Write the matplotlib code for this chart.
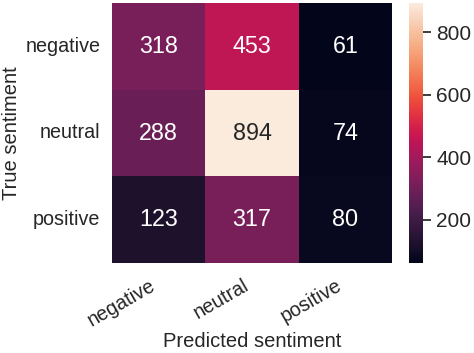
import numpy as np
import seaborn as sns
from matplotlib import pyplot as plt

labels = ["negative", "neutral", "positive"]
counts = [
    [318, 453, 61],
    [288, 894, 74],
    [123, 317, 80],
]
cbar_ticks = [200, 400, 600, 800]

sns.set_theme(font_scale=1.4)
plt.rcParams["font.family"] = ["Liberation Sans", "DejaVu Sans"]

fig = plt.figure(figsize=(4.74, 3.53), dpi=100)
ax = fig.add_axes([112 / 474, 1 - 263 / 353, 280 / 474, 260 / 353])
cax = fig.add_axes([409 / 474, 1 - 263 / 353, 14 / 474, 260 / 353])

sns.heatmap(np.array(counts), annot=True, fmt="d", ax=ax, cbar_ax=cax,
            xticklabels=labels, yticklabels=labels,
            annot_kws={"size": 16.8})

ax.set_xlabel("Predicted sentiment", fontsize=14.5, labelpad=1)
ax.set_ylabel("True sentiment", fontsize=14.5, labelpad=3)
ax.tick_params(axis="both", labelsize=14.2)
ax.tick_params(axis="y", pad=2.5)
plt.setp(ax.get_yticklabels(), rotation=0)
plt.setp(ax.get_xticklabels(), rotation=30, ha="right")

cax.set_yticks(cbar_ticks)
cax.tick_params(labelsize=15)

fig.savefig("out.png", dpi=100)
